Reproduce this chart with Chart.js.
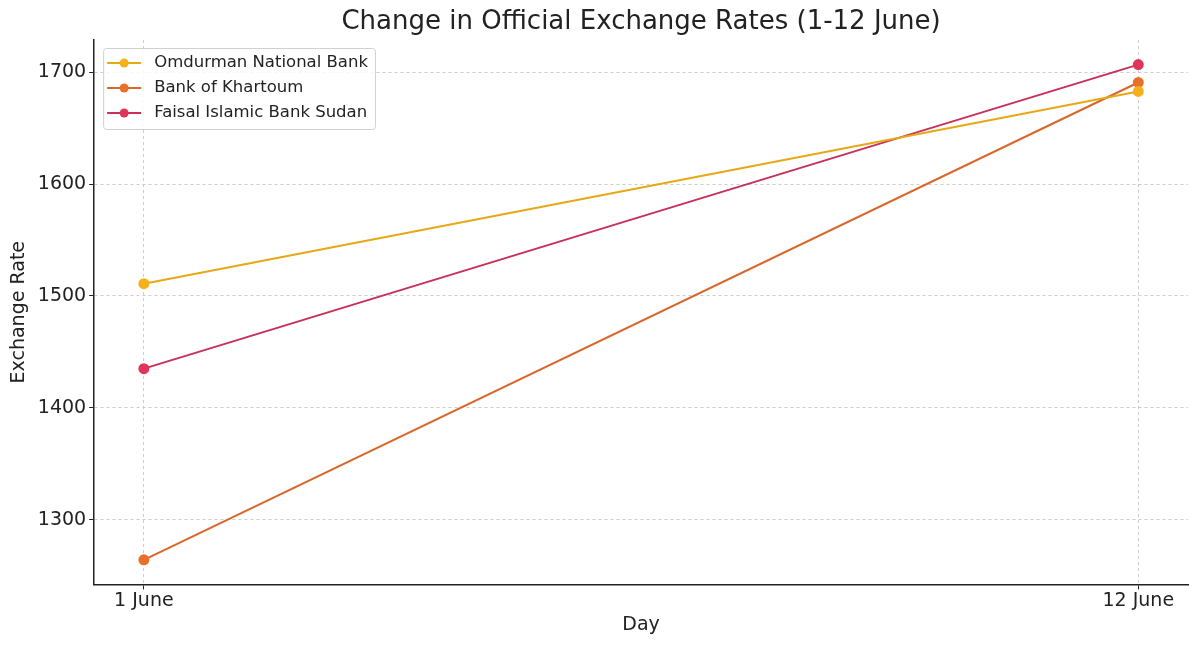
<!DOCTYPE html>
<html>
<head>
<meta charset="utf-8">
<script src="https://cdn.jsdelivr.net/npm/chart.js@4/dist/chart.umd.min.js"></script>
<style>
  html, body { margin: 0; padding: 0; background: #fff; }
  #wrap { width: 1200px; height: 648px; }
</style>
</head>
<body>
<div id="wrap"><canvas id="rateChart"></canvas></div>
<script>
// chart data
const dayLabels = ['1 June', '12 June'];
const bankNames = ['Omdurman National Bank', 'Bank of Khartoum', 'Faisal Islamic Bank Sudan'];
const omdurmanRates = [1511, 1683];
const khartoumRates = [1264, 1691];
const faisalRates = [1435, 1707];
const yTicks = [1300, 1400, 1500, 1600, 1700];
const chartTitle = 'Change in Official Exchange Rates (1-12 June)';

const lineColors = ['#e6a817', '#d9662a', '#c8305a'];
const pointColors = ['#f5b01a', '#e8702a', '#e0355a'];
const fontFamily = "'DejaVu Sans', sans-serif";

function toPoints(values) {
    return values.map((v, i) => ({ x: i, y: v }));
}

const seriesValues = [omdurmanRates, khartoumRates, faisalRates];

// title centred over the plot area (not the canvas), like matplotlib
const axesTitle = {
    id: 'axesTitle',
    afterDraw(chart) {
        const ctx = chart.ctx;
        const area = chart.chartArea;
        ctx.save();
        ctx.font = '26px ' + fontFamily;
        ctx.fillStyle = '#222';
        ctx.textAlign = 'center';
        ctx.textBaseline = 'middle';
        ctx.fillText(chartTitle, (area.left + area.right) / 2, 22);
        ctx.restore();
    }
};

// legend drawn inside the plot, upper left
const innerLegend = {
    id: 'innerLegend',
    afterDraw(chart) {
        const ctx = chart.ctx;
        const area = chart.chartArea;
        const x0 = area.left + 9;
        const y0 = area.top + 8;
        const rowH = 25;
        ctx.save();
        ctx.font = '16.5px ' + fontFamily;
        let maxW = 0;
        chart.data.datasets.forEach(ds => {
            maxW = Math.max(maxW, ctx.measureText(ds.label).width);
        });
        const boxW = 51 + maxW + 7;
        const boxH = rowH * chart.data.datasets.length + 6;
        ctx.fillStyle = 'rgba(255,255,255,0.85)';
        ctx.strokeStyle = '#d0d0d0';
        ctx.lineWidth = 1;
        ctx.beginPath();
        ctx.roundRect(x0 + 0.5, y0 + 0.5, boxW, boxH, 3);
        ctx.fill();
        ctx.stroke();
        chart.data.datasets.forEach((ds, i) => {
            const cy = y0 + 15 + i * rowH;
            ctx.strokeStyle = ds.borderColor;
            ctx.lineWidth = 2;
            ctx.beginPath();
            ctx.moveTo(x0 + 4, cy);
            ctx.lineTo(x0 + 38, cy);
            ctx.stroke();
            ctx.fillStyle = ds.pointBackgroundColor;
            ctx.beginPath();
            ctx.arc(x0 + 21, cy, 4.5, 0, Math.PI * 2);
            ctx.fill();
            ctx.fillStyle = '#222';
            ctx.textBaseline = 'middle';
            ctx.fillText(ds.label, x0 + 51, cy);
        });
        ctx.restore();
    }
};

new Chart(document.getElementById('rateChart'), {
    type: 'line',
    data: {
        datasets: bankNames.map((name, i) => ({
            label: name,
            data: toPoints(seriesValues[i]),
            borderColor: lineColors[i],
            backgroundColor: pointColors[i],
            pointBackgroundColor: pointColors[i],
            pointBorderColor: pointColors[i],
            pointRadius: 4.5,
            borderWidth: 2,
            tension: 0
        }))
    },
    options: {
        responsive: true,
        maintainAspectRatio: false,
        animation: false,
        layout: { padding: { left: 0, right: 12, top: 40, bottom: 5 } },
        plugins: {
            legend: { display: false },
            tooltip: { enabled: false },
            title: { display: false }
        },
        scales: {
            x: {
                type: 'linear',
                min: -0.05,
                max: 1.05,
                afterBuildTicks: scale => {
                    scale.ticks = dayLabels.map((_, i) => ({ value: i }));
                },
                ticks: {
                    color: '#222',
                    font: { family: fontFamily, size: 19 },
                    padding: 0,
                    maxRotation: 0,
                    callback: value => dayLabels[value]
                },
                grid: {
                    color: '#cccccc',
                    lineWidth: 1,
                    tickColor: '#222',
                    tickLength: 5,
                    tickBorderDash: []
                },
                border: { display: true, color: '#222', width: 1.5, dash: [3, 3] },
                title: {
                    display: true,
                    text: 'Day',
                    color: '#222',
                    font: { family: fontFamily, size: 19 },
                    padding: { top: 1, bottom: 7 }
                }
            },
            y: {
                min: 1242,
                max: 1729,
                afterBuildTicks: scale => {
                    scale.ticks = yTicks.map(v => ({ value: v }));
                },
                ticks: {
                    color: '#222',
                    font: { family: fontFamily, size: 19 },
                    padding: 3,
                    callback: value => String(value)
                },
                grid: {
                    color: '#cccccc',
                    lineWidth: 1,
                    tickColor: '#222',
                    tickLength: 5,
                    tickBorderDash: []
                },
                border: { display: true, color: '#222', width: 1.5, dash: [3, 3] },
                title: {
                    display: true,
                    text: 'Exchange Rate',
                    color: '#222',
                    font: { family: fontFamily, size: 19 },
                    padding: { top: 8, bottom: 4 }
                }
            }
        }
    },
    plugins: [axesTitle, innerLegend]
});
</script>
</body>
</html>
